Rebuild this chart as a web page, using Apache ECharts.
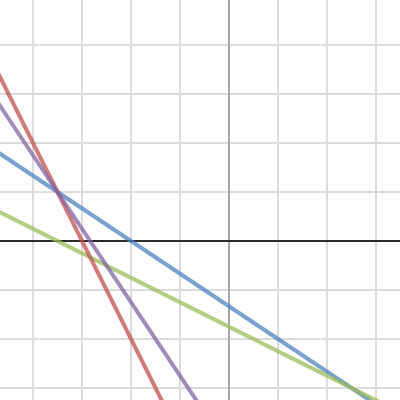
<!DOCTYPE html>
<html>
<head>
<meta charset="utf-8">
<script src="https://cdn.jsdelivr.net/npm/echarts@6/dist/echarts.min.js"></script>
<style>
html,body{margin:0;padding:0;background:#fff;overflow:hidden;width:400px;height:400px;}
#wrap{position:relative;width:400px;height:400px;overflow:hidden;}
#c{position:absolute;}
</style>
</head>
<body>
<div id="wrap"><div id="c"></div></div>
<script>
// Line endpoints (math coordinates, grid unit = 1)
var redLine = [[-5, 4], [-1, -4]];
var purpleLine = [[-5, 3.25], [0, -4.25]];
var blueLine = [[-5, 2], [4, -4]];
var greenLine = [[-5, 0.75], [4, -3.75]];
var xRange = [-5, 4];
var yRange = [-4, 5];

var unit = 49;
var ox = 229.3, oy = 240.7;
var el = document.getElementById('c');
el.style.left = (ox + xRange[0] * unit) + 'px';
el.style.top = (oy - yRange[1] * unit) + 'px';
el.style.width = ((xRange[1] - xRange[0]) * unit) + 'px';
el.style.height = ((yRange[1] - yRange[0]) * unit) + 'px';
var chart = echarts.init(el);
function lineSeries(d, color) {
  return {
    type: 'line', data: d, symbol: 'none', silent: true, animation: false,
    lineStyle: { color: color, width: 4, opacity: 0.75 }
  };
}
chart.setOption({
  animation: false,
  grid: { left: 0, right: 0, top: 0, bottom: 0, containLabel: false },
  xAxis: {
    type: 'value', min: xRange[0], max: xRange[1], interval: 1,
    axisLine: { onZero: true, lineStyle: { color: '#2b2b2b', width: 2 } },
    axisTick: { show: false }, axisLabel: { show: false },
    splitLine: { show: true, lineStyle: { color: '#dcdcdc', width: 2 } }
  },
  yAxis: {
    type: 'value', min: yRange[0], max: yRange[1], interval: 1,
    axisLine: { show: true, onZero: true, lineStyle: { color: '#a8a8a8', width: 2 } },
    axisTick: { show: false }, axisLabel: { show: false },
    splitLine: { show: true, lineStyle: { color: '#dcdcdc', width: 2 } }
  },
  series: [
    lineSeries(blueLine, '#4f81bd'),
    lineSeries(greenLine, '#9bbb59'),
    lineSeries(redLine, '#c0504d'),
    lineSeries(purpleLine, '#8064a2')
  ]
});
</script>
</body>
</html>
